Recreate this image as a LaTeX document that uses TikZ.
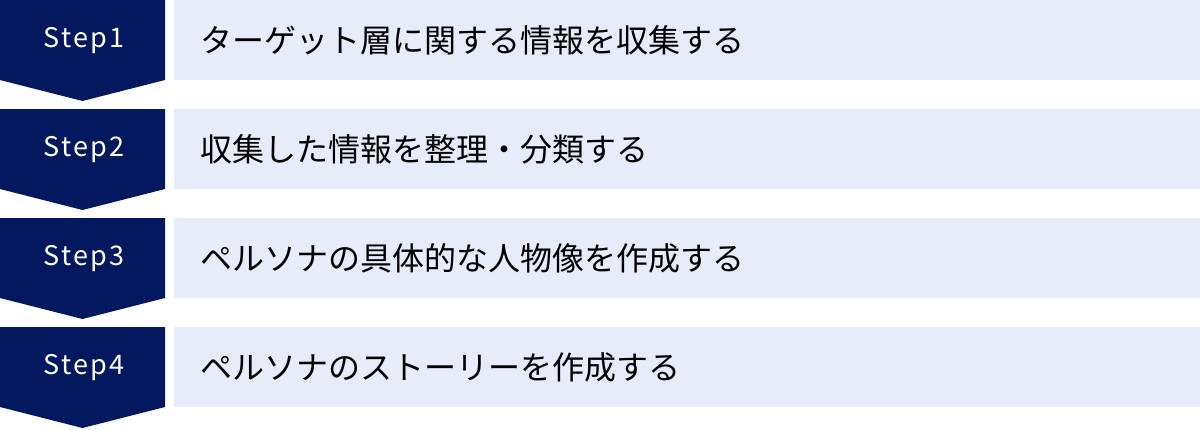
\documentclass[tikz,border=0pt]{standalone}
\usepackage{fontspec}
\newfontfamily\jpfont{Noto Sans CJK JP}
\newfontfamily\stepfont[LetterSpace=8]{Noto Sans CJK JP}
\definecolor{navy}{RGB}{4,24,96}
\definecolor{lightbox}{RGB}{230,236,249}
\tikzset{
  x=1pt,y=-1pt,
  steplabel/.style={text=white,font=\stepfont\fontsize{27}{30}\selectfont,inner sep=0pt,anchor=center},
  desclabel/.style={text=black,font=\jpfont\fontsize{32}{36}\selectfont,inner sep=0pt,anchor=west},
}
\newcommand{\steprow}[4]{%
  \fill[navy] (0,#1) -- (165,#1) -- (165,#1+80) -- (82.5,#1+101) -- (0,#1+80) -- cycle;
  \fill[lightbox] (174,#1) rectangle (1200,#1+80);
  \node[steplabel] (#4s) at (84,#1+41) {#2};
  \node[desclabel] (#4d) at (200,#1+40) {#3};
}
\begin{document}
\begin{tikzpicture}
\useasboundingbox (0,0) rectangle (1200,429);
\steprow{0}{Step1}{ターゲット層に関する情報を収集する}{a}
\steprow{109}{Step2}{収集した情報を整理・分類する}{b}
\steprow{218}{Step3}{ペルソナの具体的な人物像を作成する}{c}
\steprow{327}{Step4}{ペルソナのストーリーを作成する}{d}
\end{tikzpicture}
\end{document}
